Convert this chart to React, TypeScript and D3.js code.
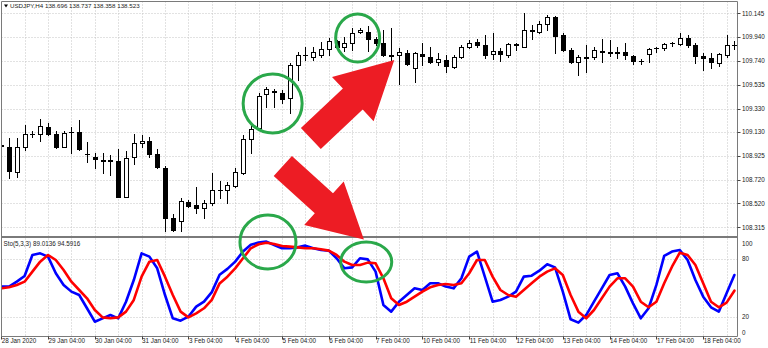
import React from 'react';
import * as d3 from 'd3';

// ---- data (USDJPY H4, 28 Jan – 18 Feb 2020) ----
const opens = [
  109.019,109.005,108.791,109.005,109.111,109.111,109.176,109.111,109.005,109.128,
  109.130,108.945,108.919,108.887,108.885,108.885,108.577,108.914,109.034,109.053,
  108.942,108.825,108.398,108.369,108.534,108.504,108.478,108.521,108.632,108.635,
  108.669,108.782,109.068,109.165,109.455,109.472,109.466,109.419,109.703,109.786,
  109.774,109.789,109.840,109.911,109.860,109.889,109.983,109.983,109.923,109.894,
  109.789,109.789,109.808,109.675,109.795,109.774,109.731,109.746,109.689,109.769,
  109.860,109.902,109.874,109.797,109.823,109.789,109.880,109.860,109.997,109.988,
  110.051,110.111,109.960,109.832,109.731,109.767,109.774,109.816,109.814,109.810,
  109.812,109.783,109.739,109.797,109.844,109.846,109.887,109.880,109.932,109.874,
  109.780,109.761,109.723,109.789,109.873,
];
const highs = [
  109.062,109.077,109.079,109.190,109.142,109.239,109.205,109.139,109.142,109.176,
  109.233,109.042,108.953,108.953,108.934,108.982,108.970,109.113,109.105,109.090,
  108.982,108.840,108.429,108.564,108.549,108.663,108.549,108.777,108.714,108.705,
  108.823,109.105,109.205,109.461,109.518,109.496,109.490,109.723,109.817,109.860,
  109.860,109.902,109.934,109.917,109.940,110.017,110.017,110.037,109.945,110.003,
  110.017,109.846,109.832,109.817,109.889,109.860,109.808,109.789,109.789,109.874,
  109.917,109.923,109.960,109.974,109.846,109.894,109.894,110.145,110.045,110.082,
  110.131,110.122,109.974,109.846,109.789,109.874,109.855,109.923,109.917,109.860,
  109.894,109.789,109.752,109.846,109.860,109.894,109.902,109.974,109.960,109.889,
  109.808,109.803,109.808,109.960,109.911,
];
const lows = [
  108.977,108.735,108.748,108.977,109.090,109.053,109.105,108.991,109.000,108.953,
  108.977,108.876,108.820,108.777,108.763,108.572,108.572,108.857,109.005,108.919,
  108.820,108.287,108.287,108.287,108.492,108.435,108.393,108.506,108.564,108.526,
  108.658,108.771,108.953,109.148,109.347,109.347,109.376,109.290,109.575,109.746,
  109.746,109.774,109.789,109.846,109.826,109.832,109.974,109.826,109.874,109.780,
  109.746,109.541,109.703,109.560,109.703,109.718,109.703,109.646,109.675,109.761,
  109.846,109.855,109.761,109.752,109.740,109.769,109.832,109.857,109.923,109.974,
  110.003,109.808,109.826,109.723,109.618,109.646,109.752,109.731,109.780,109.761,
  109.752,109.712,109.712,109.731,109.817,109.832,109.866,109.874,109.860,109.723,
  109.661,109.675,109.695,109.774,109.838,
];
const closes = [
  109.006,108.800,109.005,109.111,109.113,109.182,109.111,109.005,109.124,109.130,
  108.982,108.938,108.900,108.885,108.888,108.577,108.906,109.034,109.053,108.942,
  108.829,108.398,108.293,108.540,108.500,108.483,108.521,108.635,108.637,108.677,
  108.791,109.068,109.156,109.441,109.496,109.477,109.410,109.703,109.789,109.789,
  109.812,109.838,109.908,109.860,109.894,109.974,110.003,109.923,109.894,109.789,
  109.784,109.810,109.712,109.803,109.780,109.731,109.752,109.695,109.769,109.860,
  109.894,109.874,109.789,109.826,109.797,109.880,109.874,110.003,110.000,110.051,
  110.111,109.951,109.832,109.731,109.769,109.772,109.832,109.819,109.806,109.808,
  109.789,109.737,109.736,109.840,109.849,109.880,109.890,109.932,109.874,109.780,
  109.761,109.726,109.797,109.874,109.876,
];
const stochMain = [
  51.7,51.7,56.8,62.7,84.4,86.1,82.7,65.5,53.4,46.5,
  43.0,29.3,15.4,18.9,22.3,18.9,36.1,58.5,86.1,82.7,
  70.6,43.0,18.9,16.5,20.6,31.0,36.1,46.0,64.0,70.0,
  77.5,88.0,95.0,97.2,98.2,94.8,91.3,91.3,92.3,94.1,
  91.3,89.6,88.9,81.0,70.6,71.6,81.0,79.9,67.2,32.7,
  25.8,36.1,43.0,49.9,48.2,55.1,55.1,51.7,49.9,60.3,
  82.7,87.9,62.0,36.1,37.9,41.3,46.5,62.0,63.0,68.2,
  74.8,71.6,46.5,17.9,14.4,22.3,36.1,49.9,63.7,65.5,
  51.7,34.4,18.9,29.3,53.4,83.4,87.9,89.6,79.2,58.5,
  41.3,30.3,25.8,44.8,63.7,
];
const stochSignal = [
  49.9,51.0,53.4,56.8,67.2,77.5,84.4,79.2,68.9,56.8,
  48.2,39.6,27.5,19.9,18.9,19.9,25.8,37.9,62.0,77.5,
  79.2,62.0,43.0,25.8,19.9,24.1,29.3,38.0,55.0,62.0,
  70.6,81.0,91.3,95.5,97.0,95.8,93.7,93.0,92.3,91.3,
  91.3,90.3,88.9,84.4,77.5,74.1,74.1,76.5,75.8,60.3,
  39.6,32.7,36.1,41.3,46.5,51.0,53.4,54.4,53.4,55.1,
  65.5,79.2,79.2,62.0,48.2,43.0,41.3,48.2,55.1,62.0,
  67.2,70.6,63.7,43.0,25.8,18.9,27.5,39.6,51.7,60.3,
  60.3,51.7,36.1,30.3,36.1,55.1,72.3,86.8,84.4,74.1,
  55.1,36.1,30.3,35.1,47.5,
];
const dateLabels = [
  '28 Jan 2020','29 Jan 04:00','30 Jan 04:00','31 Jan 04:00','3 Feb 04:00',
  '4 Feb 04:00','5 Feb 04:00','6 Feb 04:00','7 Feb 04:00','10 Feb 04:00',
  '11 Feb 04:00','12 Feb 04:00','13 Feb 04:00','14 Feb 04:00','17 Feb 04:00','18 Feb 04:00',
];
const priceTicks = [110.145,109.940,109.740,109.535,109.330,109.130,108.925,108.720,108.520,108.315];
const stochTicks = [100, 80, 20, 0];
const stochLevels = [80, 20];
const headerText = 'USDJPY,H4  138.696 138.737 138.358 138.523';
const stochText = 'Sto(5,3,3) 89.0136 94.5916';

// annotations (bar index, value)
const priceCircles = [
  { bar: 34.8, price: 109.374, rx: 29.5, ry: 29.5 },
  { bar: 45.7, price: 109.934, rx: 22, ry: 24 },
];
const stochCircles = [
  { bar: 34.2, value: 97.9, rx: 28, ry: 27 },
  { bar: 46.8, value: 77.2, rx: 25.5, ry: 20 },
];

const FONT = "'Liberation Sans', Arial, sans-serif";

function arrowPath(tx: number, ty: number, hx: number, hy: number, shaftHalf: number, headHalf: number, headLen: number) {
  const dx = hx - tx, dy = hy - ty;
  const len = Math.hypot(dx, dy);
  const ux = dx / len, uy = dy / len;
  const nx = -uy, ny = ux;
  const bx = hx - ux * headLen, by = hy - uy * headLen;
  const pts = [
    [tx + nx * shaftHalf, ty + ny * shaftHalf],
    [bx + nx * shaftHalf, by + ny * shaftHalf],
    [bx + nx * headHalf, by + ny * headHalf],
    [hx, hy],
    [bx - nx * headHalf, by - ny * headHalf],
    [bx - nx * shaftHalf, by - ny * shaftHalf],
    [tx - nx * shaftHalf, ty - ny * shaftHalf],
  ];
  return 'M' + pts.map(p => p[0].toFixed(1) + ',' + p[1].toFixed(1)).join('L') + 'Z';
}

export default function App() {
  const W = 768, H = 348;
  const left = 1.5, right = 737.5, top = 1.5, mainBottom = 236.5, paneTop = 237.5, paneBottom = 336.5;
  const x = d3.scaleLinear().domain([0, 94]).range([1.2, 734.4]);
  const yP = d3.scaleLinear().domain([108.315, 110.145]).range([227.3, 13.3]);
  const yS = d3.scaleLinear().domain([0, 100]).range([336.6, 239.9]);

  const line = d3.line<number>().x((_, i) => x(i)).y(d => yS(d));

  const vGrid: number[] = [];
  for (let i = 3; i < opens.length; i += 3) vGrid.push(Math.round(x(i)) + 0.5);

  const candles = opens.map((o, i) => {
    const c = closes[i];
    const cx = Math.round(x(i));
    const yo = yP(o), yc = yP(c), yh = yP(highs[i]), yl = yP(lows[i]);
    const bTop = Math.round(Math.min(yo, yc)), bBot = Math.round(Math.max(yo, yc));
    const bull = c >= o;
    return (
      <g key={i}>
        <line x1={cx + 0.5} x2={cx + 0.5} y1={Math.round(yh)} y2={Math.round(yl) + 1} stroke="#000" strokeWidth={1} />
        {bBot - bTop < 1 ? (
          <line x1={cx - 2} x2={cx + 3} y1={bTop + 0.5} y2={bTop + 0.5} stroke="#000" strokeWidth={1} />
        ) : (
          <rect x={cx - 1.5} y={bTop + 0.5} width={4} height={bBot - bTop} fill={bull ? '#fff' : '#000'} stroke="#000" strokeWidth={1} />
        )}
      </g>
    );
  });

  const a1 = arrowPath(x(39.7), yP(109.075), x(50.4), yP(109.746), 14.5, 30.4, 57);
  const a2 = arrowPath(x(36.1), yP(108.840), x(46.5), yS(100.4), 13.5, 29.4, 54);

  return (
    <svg width={W} height={H} style={{ position: 'fixed', left: 0, top: 0, background: '#fff' }} fontFamily={FONT}>
      <defs>
        <clipPath id="mainClip"><rect x={2} y={2} width={735} height={234} /></clipPath>
        <clipPath id="paneClip"><rect x={2} y={238} width={735} height={98} /></clipPath>
      </defs>
      <rect x={0} y={0} width={W} height={H} fill="#fff" />

      {/* grid main */}
      <g stroke="#c4c4c4" strokeWidth={1} strokeDasharray="1,2">
        {priceTicks.map(p => (
          <line key={p} x1={left} x2={right} y1={Math.round(yP(p)) + 0.5} y2={Math.round(yP(p)) + 0.5} />
        ))}
        {vGrid.map(v => <line key={'m' + v} x1={v} x2={v} y1={top} y2={mainBottom} />)}
        {stochLevels.map(l => (
          <line key={'l' + l} x1={left} x2={right} y1={Math.round(yS(l)) + 0.5} y2={Math.round(yS(l)) + 0.5} />
        ))}
        {vGrid.map(v => <line key={'p' + v} x1={v} x2={v} y1={paneTop + 1} y2={paneBottom} />)}
      </g>

      {/* candles */}
      <g clipPath="url(#mainClip)">{candles}</g>

      {/* stochastic */}
      <g clipPath="url(#paneClip)" fill="none" strokeWidth={2.6} strokeLinejoin="round" strokeLinecap="round">
        <path d={line(stochMain) || ''} stroke="#0000ff" />
        <path d={line(stochSignal) || ''} stroke="#ff0000" />
      </g>

      {/* frames */}
      <g stroke="#7a7a7a" strokeWidth={1} fill="none">
        <line x1={left} x2={left} y1={top} y2={paneBottom} />
        <line x1={left} x2={right} y1={top} y2={top} />
        <line x1={right} x2={right} y1={top} y2={paneBottom} />
        <line x1={left} x2={right} y1={mainBottom} y2={mainBottom} />
        <line x1={left} x2={right} y1={paneTop} y2={paneTop} />
        <line x1={left} x2={right} y1={paneBottom} y2={paneBottom} />
      </g>

      {/* right axis */}
      <g fontSize={6.3} fill="#1a1a1a">
        {priceTicks.map(p => (
          <g key={p}>
            <line x1={right} x2={right + 3} y1={Math.round(yP(p)) + 0.5} y2={Math.round(yP(p)) + 0.5} stroke="#444" />
            <text x={742} y={yP(p) + 2.2}>{p.toFixed(3)}</text>
          </g>
        ))}
        {stochTicks.map(t => (
          <text key={'s' + t} x={742} y={(t === 100 ? 243.3 : t === 0 ? 332.7 : yS(t)) + 2.2}>{t}</text>
        ))}
      </g>

      {/* bottom axis */}
      <g fontSize={6.3} fill="#1a1a1a">
        {dateLabels.map((d, k) => (
          <g key={d}>
            <line x1={Math.round(x(k * 6)) + 0.5} x2={Math.round(x(k * 6)) + 0.5} y1={paneBottom} y2={paneBottom + 3} stroke="#444" />
            <text x={x(k * 6) + 0.5} y={342.8}>{d}</text>
          </g>
        ))}
      </g>

      {/* header */}
      <path d="M4,4.5L8,4.5L6,7.5Z" fill="#000" />
      <text x={10} y={8.4} fontSize={6.2} fill="#1a1a1a">{headerText}</text>
      <text x={3.5} y={246.4} fontSize={6.3} fill="#1a1a1a">{stochText}</text>

      {/* annotations */}
      <g fill="#ed1c24">
        <path d={a1} />
        <path d={a2} />
      </g>
      <g fill="none" stroke="#2aa84a" strokeWidth={3}>
        {priceCircles.map((c, i) => (
          <ellipse key={'pc' + i} cx={x(c.bar)} cy={yP(c.price)} rx={c.rx} ry={c.ry} />
        ))}
        {stochCircles.map((c, i) => (
          <ellipse key={'sc' + i} cx={x(c.bar)} cy={yS(c.value)} rx={c.rx} ry={c.ry} />
        ))}
      </g>
    </svg>
  );
}
